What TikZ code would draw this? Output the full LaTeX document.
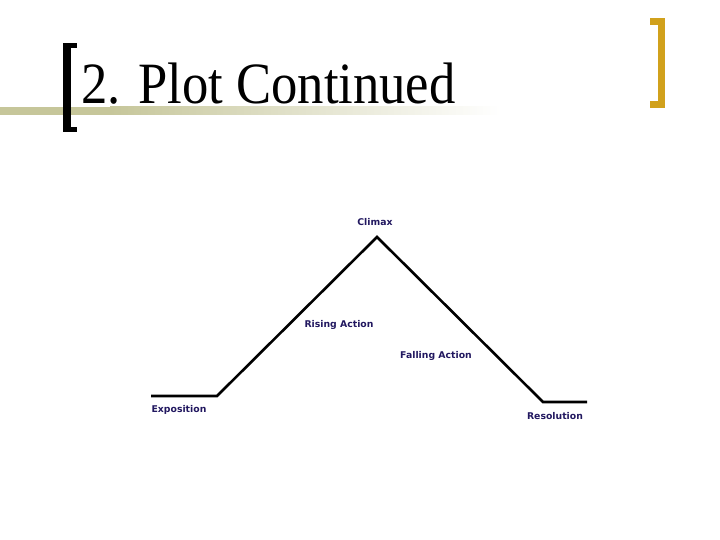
\documentclass[tikz,border=0pt]{standalone}
\usepackage{fontspec}
\setmainfont{Liberation Serif}
\newfontfamily\lblfont{DejaVu Sans}
\definecolor{bandc}{HTML}{C6C69A}
\definecolor{goldc}{HTML}{D1A11C}
\definecolor{lblc}{HTML}{221860}
\begin{document}
\begin{tikzpicture}[x=1pt,y=-1pt,
  lbl/.style={font=\lblfont\bfseries\fontsize{9.3}{11}\selectfont, text=lblc, inner sep=0pt},
  plotline/.style={line width=2.6pt, line join=miter}]
\useasboundingbox (0,0) rectangle (720,540);
\fill[white] (0,0) rectangle (720,540);
% gradient band
\fill[bandc] (0,107) rectangle (110,115);
\shade[left color=bandc, right color=white] (110,107) rectangle (500,115);
% left bracket
\fill[black] (63,43) rectangle (71,132);
\fill[black] (63,43) rectangle (77,48);
\fill[black] (63,127) rectangle (77,132);
% right bracket
\fill[goldc] (658,18) rectangle (665,108);
\fill[goldc] (650,18) rectangle (665,25);
\fill[goldc] (650,101) rectangle (665,108);
% title
\node[anchor=base west, inner sep=0pt, xscale=0.90, font=\fontsize{58.5}{66}\selectfont] (title) at (81,104) {2. Plot Continued};
% plot line
\coordinate (p0) at (151,396);
\coordinate (p1) at (217,396);
\coordinate (p2) at (377,237);
\coordinate (p3) at (543,402);
\coordinate (p4) at (587,402);
\draw[plotline] (p0) -- (p1) -- (p2) -- (p3) -- (p4);
% labels
\node[lbl] (climax) at (375,222) {Climax};
\node[lbl] (rising) at (339,325) {Rising Action};
\node[lbl] (falling) at (436,356) {Falling Action};
\node[lbl] (expo) at (179,410) {Exposition};
\node[lbl] (reso) at (555,416) {Resolution};
\end{tikzpicture}
\end{document}
